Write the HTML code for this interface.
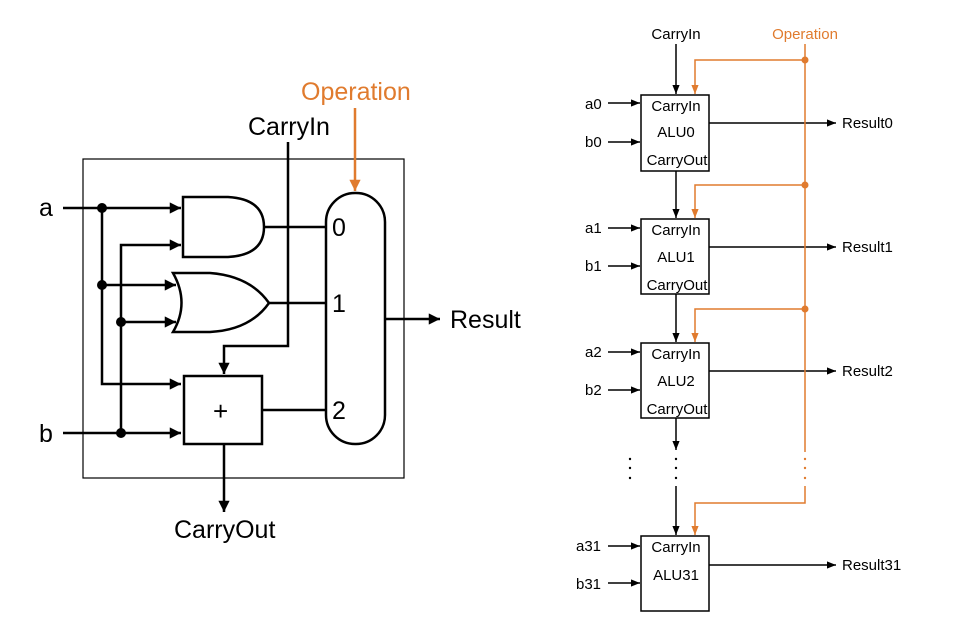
<!DOCTYPE html>
<html><head><meta charset="utf-8"><style>
html,body{margin:0;padding:0;background:#fff;}
svg{display:block;}
text{font-family:"Liberation Sans",sans-serif;}
</style></head><body>
<svg width="976" height="638" viewBox="0 0 976 638" xmlns="http://www.w3.org/2000/svg">
<defs>
<marker id="ab" viewBox="0 0 10 10" refX="10" refY="5" markerWidth="5" markerHeight="4.5" orient="auto" markerUnits="strokeWidth"><path d="M0,0 L10,5 L0,10 z" fill="#000"/></marker>
<marker id="ao" viewBox="0 0 10 10" refX="10" refY="5" markerWidth="5" markerHeight="4.5" orient="auto" markerUnits="strokeWidth"><path d="M0,0 L10,5 L0,10 z" fill="#e07b2e"/></marker>
<marker id="sb" viewBox="0 0 10 10" refX="10" refY="5" markerWidth="6" markerHeight="6" orient="auto" markerUnits="strokeWidth"><path d="M0,1 L10,5 L0,9 z" fill="#000"/></marker>
<marker id="so" viewBox="0 0 10 10" refX="10" refY="5" markerWidth="6" markerHeight="6" orient="auto" markerUnits="strokeWidth"><path d="M0,1 L10,5 L0,9 z" fill="#e07b2e"/></marker>
</defs>

<!-- LEFT -->
<rect x="83" y="159" width="321" height="319" fill="none" stroke="#000" stroke-width="1.2"/>
<g stroke="#000" stroke-width="2.5" fill="none">
<line x1="63" y1="208" x2="181" y2="208" marker-end="url(#ab)"/>
<polyline points="102,208 102,384 181,384" marker-end="url(#ab)"/>
<line x1="102" y1="285" x2="176" y2="285" marker-end="url(#ab)"/>
<line x1="63" y1="433" x2="181" y2="433" marker-end="url(#ab)"/>
<polyline points="121,433 121,245 181,245" marker-end="url(#ab)"/>
<line x1="121" y1="322" x2="176" y2="322" marker-end="url(#ab)"/>
<path d="M183,197 L228,197 Q264,199 264,227 Q264,255 228,257 L183,257 Z"/>
<path d="M173,273 L210,273 Q250,276 269,303 Q250,330 210,332 L173,332 Q190,303 173,273 Z"/>
<line x1="264" y1="227" x2="327" y2="227"/>
<line x1="269" y1="303" x2="327" y2="303"/>
<polyline points="288,142 288,346 224,346 224,374" marker-end="url(#ab)"/>
<rect x="184" y="376" width="78" height="68"/>
<line x1="262" y1="410" x2="327" y2="410"/>
<line x1="224" y1="444" x2="224" y2="512" marker-end="url(#ab)"/>
<rect x="326" y="193" width="59" height="251" rx="29" ry="29"/>
<line x1="385" y1="319" x2="440" y2="319" marker-end="url(#ab)"/>
</g>
<line x1="355" y1="108" x2="355" y2="191" stroke="#e07b2e" stroke-width="2.5" marker-end="url(#ao)"/>
<g fill="#000">
<circle cx="102" cy="208" r="5"/><circle cx="102" cy="285" r="5"/>
<circle cx="121" cy="322" r="5"/><circle cx="121" cy="433" r="5"/>
</g>
<g font-size="25" fill="#000">
<text x="39" y="216">a</text>
<text x="39" y="442">b</text>
<text x="248" y="135">CarryIn</text>
<text x="174" y="538">CarryOut</text>
<text x="450" y="328">Result</text>
<text x="332" y="236">0</text>
<text x="332" y="312">1</text>
<text x="332" y="419">2</text>
<text x="301" y="100" fill="#e07b2e">Operation</text>
</g>
<text x="213" y="420" font-size="26" fill="#000">+</text>

<!-- RIGHT -->
<g stroke="#000" stroke-width="1.5" fill="none">
<rect x="641" y="95" width="68" height="76"/>
<rect x="641" y="219" width="68" height="75"/>
<rect x="641" y="343" width="68" height="75"/>
<rect x="641" y="536" width="68" height="75"/>
<line x1="676" y1="44" x2="676" y2="94" marker-end="url(#sb)"/>
<line x1="676" y1="171" x2="676" y2="218" marker-end="url(#sb)"/>
<line x1="676" y1="294" x2="676" y2="342" marker-end="url(#sb)"/>
<line x1="676" y1="418" x2="676" y2="450" marker-end="url(#sb)"/>
<line x1="676" y1="486" x2="676" y2="535" marker-end="url(#sb)"/>
<line x1="608" y1="103" x2="640" y2="103" marker-end="url(#sb)"/>
<line x1="608" y1="142" x2="640" y2="142" marker-end="url(#sb)"/>
<line x1="608" y1="228" x2="640" y2="228" marker-end="url(#sb)"/>
<line x1="608" y1="266" x2="640" y2="266" marker-end="url(#sb)"/>
<line x1="608" y1="352" x2="640" y2="352" marker-end="url(#sb)"/>
<line x1="608" y1="390" x2="640" y2="390" marker-end="url(#sb)"/>
<line x1="608" y1="546" x2="640" y2="546" marker-end="url(#sb)"/>
<line x1="608" y1="583" x2="640" y2="583" marker-end="url(#sb)"/>
<line x1="709" y1="123" x2="836" y2="123" marker-end="url(#sb)"/>
<line x1="709" y1="247" x2="836" y2="247" marker-end="url(#sb)"/>
<line x1="709" y1="371" x2="836" y2="371" marker-end="url(#sb)"/>
<line x1="709" y1="565" x2="836" y2="565" marker-end="url(#sb)"/>
</g>
<g stroke="#e07b2e" stroke-width="1.5" fill="none">
<line x1="805" y1="44" x2="805" y2="452"/>
<polyline points="805,60 695,60 695,94" marker-end="url(#so)"/>
<polyline points="805,185 695,185 695,218" marker-end="url(#so)"/>
<polyline points="805,309 695,309 695,342" marker-end="url(#so)"/>
<polyline points="805,486 805,503 695,503 695,535" marker-end="url(#so)"/>
</g>
<g fill="#e07b2e">
<circle cx="805" cy="60" r="3.5"/><circle cx="805" cy="185" r="3.5"/><circle cx="805" cy="309" r="3.5"/>
<circle cx="805" cy="459" r="1.2"/><circle cx="805" cy="468" r="1.2"/><circle cx="805" cy="478" r="1.2"/>
</g>
<g fill="#000">
<circle cx="676" cy="459" r="1.2"/><circle cx="676" cy="468" r="1.2"/><circle cx="676" cy="478" r="1.2"/>
<circle cx="630" cy="459" r="1.2"/><circle cx="630" cy="468" r="1.2"/><circle cx="630" cy="478" r="1.2"/>
</g>
<g font-size="15" fill="#000">
<text x="676" y="39" text-anchor="middle">CarryIn</text>
<text x="805" y="39" text-anchor="middle" fill="#e07b2e">Operation</text>
<text x="676" y="111" text-anchor="middle">CarryIn</text>
<text x="676" y="137" text-anchor="middle">ALU0</text>
<text x="677" y="165" text-anchor="middle">CarryOut</text>
<text x="676" y="235" text-anchor="middle">CarryIn</text>
<text x="676" y="262" text-anchor="middle">ALU1</text>
<text x="677" y="290" text-anchor="middle">CarryOut</text>
<text x="676" y="359" text-anchor="middle">CarryIn</text>
<text x="676" y="386" text-anchor="middle">ALU2</text>
<text x="677" y="414" text-anchor="middle">CarryOut</text>
<text x="676" y="552" text-anchor="middle">CarryIn</text>
<text x="676" y="580" text-anchor="middle">ALU31</text>
<text x="585" y="109">a0</text><text x="585" y="147">b0</text>
<text x="585" y="233">a1</text><text x="585" y="271">b1</text>
<text x="585" y="357">a2</text><text x="585" y="395">b2</text>
<text x="576" y="551">a31</text><text x="576" y="589">b31</text>
<text x="842" y="128">Result0</text>
<text x="842" y="252">Result1</text>
<text x="842" y="376">Result2</text>
<text x="842" y="570">Result31</text>
</g>
</svg>
</body></html>
